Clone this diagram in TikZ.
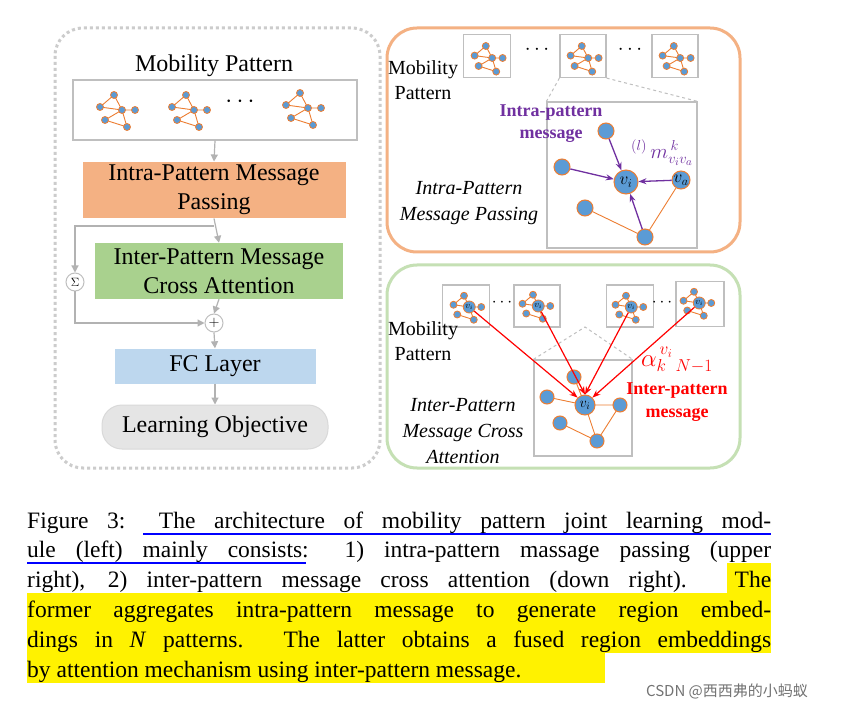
\documentclass[tikz,border=0pt]{standalone}
\usepackage{fontspec}
\setmainfont{Liberation Serif}
\newfontfamily\cjk{Noto Sans CJK SC}
\usetikzlibrary{arrows.meta}
\definecolor{dotb}{HTML}{5B9BD5}
\definecolor{edgo}{HTML}{ED7D31}
\definecolor{oranf}{HTML}{F4B183}
\definecolor{greenf}{HTML}{A9D18E}
\definecolor{bluef}{HTML}{BDD7EE}
\definecolor{greenb}{HTML}{C5E0B4}
\definecolor{purp}{HTML}{7030A0}
\begin{document}
\begin{tikzpicture}[x=1pt,y=-1pt,
  dot/.style={circle,fill=dotb,draw=edgo,line width=0.8pt,inner sep=0pt,minimum size=7pt},
  bigdot/.style={circle,fill=dotb,draw=edgo,line width=1pt,inner sep=0pt,minimum size=16pt},
  edge/.style={edgo,line width=0.9pt},
  gbox/.style={draw=black!25,line width=1.2pt},
  flow/.style={draw=black!30,line width=1.2pt,-{Triangle[length=7pt,width=7pt]}},
  blk/.style={draw=none,minimum height=56pt,align=center,font=\fontsize{24}{31}\selectfont},
  lbl/.style={font=\fontsize{20}{25}\selectfont,align=center},
  ilbl/.style={font=\fontsize{20}{26}\selectfont\itshape,align=center},
  purarr/.style={purp,line width=1.3pt,-{Stealth[length=8pt]}},
  redarr/.style={red,line width=1.2pt,-{Stealth[length=8pt]}},
  captxt/.style={anchor=base west,inner sep=0pt,font=\fontsize{23.5}{30}\selectfont},
  mg/.pic={
    \draw[edge] (-18,-3)--(-4,-15)--(4,0)--(-18,-3) (4,0)--(17,0) (4,0)--(-13,10)--(9,17)--(4,0);
    \node[dot] (-a) at (-18,-3) {}; \node[dot] (-b) at (-4,-15) {};
    \node[dot] (-c) at (4,0) {}; \node[dot] (-d) at (17,0) {};
    \node[dot] (-e) at (-13,10) {}; \node[dot] (-f) at (9,17) {};
  },
  mgv/.pic={
    \draw[edge] (-18,-3)--(-4,-15)--(3,0)--(-18,-3) (3,0)--(19,0) (-13,10)--(9,17)--(3,0);
    \node[dot] (-a) at (-18,-3) {}; \node[dot] (-b) at (-4,-15) {};
    \node[circle,fill=dotb,draw=edgo,line width=0.8pt,inner sep=0pt,minimum size=12pt,font=\fontsize{9}{9}\selectfont\itshape] (-c) at (3,0) {$v_{i}$};
    \node[dot] (-d) at (19,0) {};
    \node[dot] (-e) at (-13,10) {}; \node[dot] (-f) at (9,17) {};
  }]
\useasboundingbox (0,0) rectangle (854,711);
\fill[white] (0,0) rectangle (854,711);
% ---------- left panel
\draw[black!20,line width=3pt,dashed,rounded corners=28pt] (55,28) rectangle (380,468);
\node[font=\fontsize{24}{28}\selectfont] (mp) at (214,66) {Mobility Pattern};
\node[gbox,minimum width=284pt,minimum height=60pt] (mpbox) at (215,110) {};
\pic (g1) at (118,110) {mg};
\pic (g2) at (190,110) {mg};
\node[font=\fontsize{24}{24}\selectfont\bfseries] (d0) at (240,102) {$\cdots$};
\pic (g3) at (304,108) {mg};
\node[blk,fill=oranf,minimum width=263pt] (intra) at (214,190) {Intra-Pattern Message\\[-2pt]Passing};
\node[blk,fill=greenf,minimum width=248pt] (inter) at (219,271) {Inter-Pattern Message\\[-2pt]Cross Attention};
\node[circle,draw=black!25,line width=1pt,fill=white,inner sep=0pt,minimum size=18pt,font=\fontsize{13}{13}\selectfont] (sig) at (75,282) {$\Sigma$};
\node[circle,draw=black!25,line width=1pt,fill=white,inner sep=0pt,minimum size=18pt,font=\fontsize{14}{14}\selectfont] (plus) at (214,323) {$+$};
\node[blk,fill=bluef,minimum width=201pt,minimum height=35pt] (fc) at (215,366) {FC Layer};
\node[blk,fill=black!10,draw=black!15,line width=1pt,minimum width=226pt,minimum height=44pt,rounded corners=20pt] (lo) at (215,427) {Learning Objective};
\coordinate (split) at (214,226);
\coordinate (lc) at (75,226);
\coordinate (lb) at (75,323);
\draw[flow] (mpbox.south) -- (intra.north);
\draw[flow] (intra.south) -- (inter.north);
\draw[flow] (split) -- (lc) -- (sig.north);
\draw[flow] (sig.south) -- (lb) -- (plus.west);
\draw[flow] (inter.south) -- (plus.north);
\draw[flow] (plus.south) -- (fc.north);
\draw[flow] (fc.south) -- (lo.north);
% ---------- upper right panel
\draw[oranf,line width=3pt,rounded corners=30pt] (387,28) rectangle (740,252);
\node[gbox,minimum width=47pt,minimum height=43pt] (sb1) at (487,56) {};
\node[gbox,minimum width=46pt,minimum height=43pt] (sb2) at (583,56) {};
\node[gbox,minimum width=46pt,minimum height=43pt] (sb3) at (675,56) {};
\pic[scale=0.8] (s1) at (489,58) {mg};
\pic[scale=0.8] (s2) at (585,58) {mg};
\pic[scale=0.8] (s3) at (677,58) {mg};
\node[font=\fontsize{22}{22}\selectfont\bfseries] (d1) at (537,50) {$\cdots$};
\node[font=\fontsize{22}{22}\selectfont\bfseries] (d2) at (630,50) {$\cdots$};
\node[lbl] (mp1) at (423,80) {Mobility\\Pattern};
\node[gbox,minimum width=150pt,minimum height=146pt] (zb) at (622,175) {};
\draw[black!25,dashed,line width=1pt] (sb2.south west) -- (zb.north west) (sb2.south east) -- (zb.north east);
\node[bigdot] (nll) at (585,208) {};
\node[bigdot] (nb) at (645,237) {};
\node[bigdot,minimum size=18pt,font=\fontsize{17}{17}\selectfont\itshape] (va) at (681,180) {$v_a$};
\draw[edge] (va) -- (nb) (nll) -- (nb);
\node[bigdot,minimum size=24pt,font=\fontsize{17}{17}\selectfont\itshape] (vi) at (626,182) {$v_i$};
\node[bigdot] (nt) at (606,131) {};
\node[bigdot] (nl) at (562,167) {};
\draw[purarr] (nt) -- (vi);
\draw[purarr] (nl) -- (vi);
\draw[purarr] (va) -- (vi);
\draw[purarr] (nb) -- (vi);
\node[font=\fontsize{18}{22}\selectfont\bfseries,purp,align=center] (ipm) at (551,124) {Intra-pattern\\message};
\node[purp,font=\fontsize{22}{22}\selectfont] (mlab) at (662,153) {$^{(l)}\,m^{\,k}_{v_iv_a}$};
\node[ilbl] (ipmp) at (469,203) {Intra-Pattern\\Message Passing};
% ---------- lower right panel
\draw[greenb,line width=3pt,rounded corners=30pt] (387,265) rectangle (740,468);
\node[gbox,minimum width=47pt,minimum height=42pt] (tb1) at (466,306) {};
\node[gbox,minimum width=46pt,minimum height=42pt] (tb2) at (537,306) {};
\node[gbox,minimum width=47pt,minimum height=42pt] (tb3) at (630,306) {};
\node[gbox,minimum width=48pt,minimum height=45pt] (tb4) at (700,304) {};
\pic[scale=0.75] (t1) at (467,307) {mgv};
\pic[scale=0.75] (t2) at (536,306) {mgv};
\pic[scale=0.75] (t3) at (629,307) {mgv};
\pic[scale=0.75] (t4) at (697,303) {mgv};
\node[font=\fontsize{18}{18}\selectfont\bfseries] (d3) at (502,303) {$\cdots$};
\node[font=\fontsize{18}{18}\selectfont\bfseries] (d4) at (662,303) {$\cdots$};
\node[lbl] (mp2) at (423,341) {Mobility\\Pattern};
\node[gbox,minimum width=98pt,minimum height=96pt] (zb2) at (583,408) {};
\coordinate (apex) at (585,327);
\draw[black!25,dashed,line width=1pt] (zb2.north west) -- (apex) -- (zb2.north east);
\draw[edge] (574,377)--(585,405) (547,397)--(585,405)--(620,405)--(597,441)--(585,405) (560,423)--(597,441);
\node[bigdot,minimum size=20pt,font=\fontsize{14}{14}\selectfont\itshape] (ui) at (585,405) {$v_i$};
\node[bigdot,minimum size=14pt] (ut) at (574,377) {};
\node[bigdot,minimum size=14pt] (ul) at (547,397) {};
\node[bigdot,minimum size=14pt] (ur) at (620,405) {};
\node[bigdot,minimum size=14pt] (ull) at (560,423) {};
\node[bigdot,minimum size=14pt] (ub) at (597,441) {};
\draw[redarr] (t1-c) -- (ui.north west);
\draw[redarr] (t2-c) -- (ui.north);
\draw[redarr] (t3-c) -- (ui.north);
\draw[redarr] (t4-c) -- (ui.north east);
\node[red,font=\fontsize{24}{24}\selectfont] (alab) at (677,360) {$\alpha^{\,v_i}_{k\;\;N-1}$};
\node[red,font=\fontsize{18}{23}\selectfont\bfseries,align=center] (ipm2) at (677,402) {Inter-pattern\\message};
\node[ilbl] (ipmc) at (463,431) {Inter-Pattern\\Message Cross\\Attention};
% ---------- caption
\fill[yellow] (727,563) rectangle (771,593);
\fill[yellow] (27,593) rectangle (771,623);
\fill[yellow] (27,623) rectangle (771,653);
\fill[yellow] (27,653) rectangle (605,683);
\draw[blue,line width=2pt] (143,534) -- (771,534);
\draw[blue,line width=2pt] (27,563) -- (306,563);
\node[captxt] (c1) at (27,528) {\makebox[744pt][s]{Figure 3: The architecture of mobility pattern joint learning mod-}};
\node[captxt] (c2) at (27,557) {\makebox[744pt][s]{ule (left) mainly consists: 1) intra-pattern massage passing (upper}};
\node[captxt] (c3) at (27,587) {\makebox[744pt][s]{right), 2) inter-pattern message cross attention (down right). The}};
\node[captxt] (c4) at (27,617) {\makebox[744pt][s]{former aggregates intra-pattern message to generate region embed-}};
\node[captxt] (c5) at (27,647) {\makebox[744pt][s]{dings in \textit{N} patterns. The latter obtains a fused region embeddings}};
\node[captxt] (c6) at (27,677) {by attention mechanism using inter-pattern message.};
\node[black!55,font=\fontsize{15}{15}\cjk] (wm) at (727,691) {CSDN @西西弗的小蚂蚁};
\end{tikzpicture}
\end{document}
